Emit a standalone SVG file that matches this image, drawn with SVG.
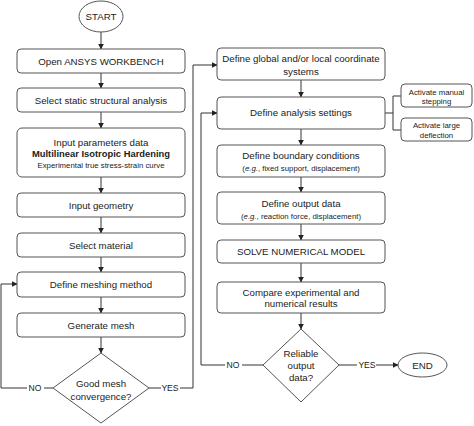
<svg xmlns="http://www.w3.org/2000/svg" width="474" height="426" viewBox="0 0 474 426">
<defs>
<style>
.b{fill:#fff;stroke:#555;stroke-width:1}
.t{font-family:"Liberation Sans",Arial,sans-serif;font-size:9.7px;fill:#222;text-anchor:middle}
.s{font-size:7.8px}
.bd{font-weight:bold;font-size:9.4px}
.l{fill:none;stroke:#333;stroke-width:1}
.lb{font-family:"Liberation Sans",Arial,sans-serif;font-size:8.6px;fill:#222;text-anchor:middle}
</style>
<marker id="a" viewBox="0 0 10 10" refX="9" refY="5" markerWidth="6" markerHeight="6" orient="auto" markerUnits="userSpaceOnUse">
<path d="M0,0 L10,5 L0,10 z" fill="#222"/>
</marker>
</defs>
<rect width="474" height="426" fill="#fff"/>
<g id="connectors">
<line class="l" x1="101" y1="32" x2="101" y2="49" marker-end="url(#a)"/>
<line class="l" x1="101" y1="73" x2="101" y2="88" marker-end="url(#a)"/>
<line class="l" x1="101" y1="112" x2="101" y2="128" marker-end="url(#a)"/>
<line class="l" x1="101" y1="177" x2="101" y2="193" marker-end="url(#a)"/>
<line class="l" x1="101" y1="217" x2="101" y2="233" marker-end="url(#a)"/>
<line class="l" x1="101" y1="257" x2="101" y2="272" marker-end="url(#a)"/>
<line class="l" x1="101" y1="297" x2="101" y2="313" marker-end="url(#a)"/>
<line class="l" x1="101" y1="337" x2="101" y2="353" marker-end="url(#a)"/>
<polyline class="l" points="53,388 1,388 1,284 17,284" marker-end="url(#a)"/>
<polyline class="l" points="149,388 193,388 193,65 217,65" marker-end="url(#a)"/>
<line class="l" x1="301" y1="80" x2="301" y2="97" marker-end="url(#a)"/>
<line class="l" x1="301" y1="129" x2="301" y2="145" marker-end="url(#a)"/>
<line class="l" x1="301" y1="177" x2="301" y2="192" marker-end="url(#a)"/>
<line class="l" x1="301" y1="224" x2="301" y2="240" marker-end="url(#a)"/>
<line class="l" x1="301" y1="263" x2="301" y2="282" marker-end="url(#a)"/>
<line class="l" x1="301" y1="313" x2="301" y2="329" marker-end="url(#a)"/>
<polyline class="l" points="263,365 201,365 201,113 217,113" marker-end="url(#a)"/>
<line class="l" x1="339" y1="365" x2="398" y2="365" marker-end="url(#a)"/>
<polyline class="l" points="385,113 393,113"/>
<polyline class="l" points="401,96 393,96 393,130 401,130"/>
<rect x="27" y="382" width="17" height="12" fill="#fff"/>
<text class="lb" x="35" y="391">NO</text>
<rect x="161" y="382" width="19" height="12" fill="#fff"/>
<text class="lb" x="170" y="391">YES</text>
<rect x="225" y="359" width="17" height="12" fill="#fff"/>
<text class="lb" x="233" y="368">NO</text>
<rect x="357" y="359" width="19" height="12" fill="#fff"/>
<text class="lb" x="367" y="368">YES</text>
</g>
<g id="start"><ellipse class="b" cx="101" cy="16.5" rx="22" ry="15.5"/><text class="t" x="101" y="20">START</text></g>
<g id="open"><rect class="b" x="17" y="49" width="168" height="24" rx="4"/><text class="t" x="101" y="64.5">Open ANSYS WORKBENCH</text></g>
<g id="static"><rect class="b" x="17" y="88" width="168" height="24" rx="4"/><text class="t" x="101" y="103.5">Select static structural analysis</text></g>
<g id="params"><rect class="b" x="17" y="128" width="168" height="49" rx="5"/>
<text class="t" x="101" y="145.5">Input parameters data</text>
<text class="t bd" x="101" y="156.5">Multilinear Isotropic Hardening</text>
<text class="t s" x="101" y="168">Experimental true stress-strain curve</text></g>
<g id="geometry"><rect class="b" x="17" y="193" width="168" height="24" rx="4"/><text class="t" x="101" y="208.5">Input geometry</text></g>
<g id="material"><rect class="b" x="17" y="233" width="168" height="24" rx="4"/><text class="t" x="101" y="248.5">Select material</text></g>
<g id="meshing"><rect class="b" x="17" y="272" width="168" height="25" rx="4"/><text class="t" x="101" y="288">Define meshing method</text></g>
<g id="genmesh"><rect class="b" x="17" y="313" width="168" height="24" rx="4"/><text class="t" x="101" y="328.5">Generate mesh</text></g>
<g id="meshconv"><polygon class="b" points="101,353 149,388 101,423 53,388"/>
<text class="t" x="101" y="386.5">Good mesh</text><text class="t" x="101" y="399.5">convergence?</text></g>
<g id="coord"><rect class="b" x="217" y="48" width="168" height="32" rx="4"/>
<text class="t" x="301" y="61.5">Define global and/or local coordinate</text><text class="t" x="301" y="75">systems</text></g>
<g id="analysis"><rect class="b" x="217" y="97" width="168" height="32" rx="4"/><text class="t" x="301" y="116">Define analysis settings</text></g>
<g id="manual"><rect class="b" x="401" y="84" width="71" height="23" rx="4"/>
<text class="t s" x="436.5" y="94.5">Activate manual</text><text class="t s" x="436.5" y="104">stepping</text></g>
<g id="deflection"><rect class="b" x="401" y="118" width="71" height="23" rx="4"/>
<text class="t s" x="436.5" y="128">Activate large</text><text class="t s" x="436.5" y="137.5">deflection</text></g>
<g id="boundary"><rect class="b" x="217" y="145" width="168" height="32" rx="4"/>
<text class="t" x="301" y="158.5">Define boundary conditions</text>
<text class="t s" x="301" y="171">(<tspan font-style="italic">e.g.</tspan>, fixed support, displacement)</text></g>
<g id="output"><rect class="b" x="217" y="192" width="168" height="32" rx="4"/>
<text class="t" x="301" y="206.5">Define output data</text>
<text class="t s" x="301" y="218.5">(<tspan font-style="italic">e.g.</tspan>, reaction force, displacement)</text></g>
<g id="solve"><rect class="b" x="217" y="240" width="168" height="23" rx="4"/><text class="t" x="301" y="255">SOLVE NUMERICAL MODEL</text></g>
<g id="compare"><rect class="b" x="217" y="282" width="168" height="31" rx="4"/>
<text class="t" x="301" y="295.5">Compare experimental and</text><text class="t" x="301" y="306.5">numerical results</text></g>
<g id="reliable"><polygon class="b" points="301,329 339,365 301,402 263,365"/>
<text class="t" x="301" y="356.5">Reliable</text><text class="t" x="301" y="368.5">output</text><text class="t" x="301" y="380.5">data?</text></g>
<g id="end"><ellipse class="b" cx="422.5" cy="365" rx="24.5" ry="12"/><text class="t" x="422.5" y="368.5">END</text></g>
</svg>
